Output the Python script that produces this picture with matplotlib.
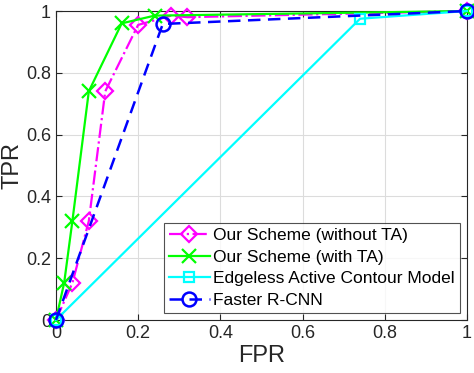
import matplotlib
matplotlib.use("Agg")
import matplotlib.pyplot as plt

plt.rcParams['font.family'] = ['Liberation Sans', 'DejaVu Sans']

fpr_without_ta = [0, 0.04, 0.08, 0.12, 0.20, 0.28, 0.32, 1.0]
tpr_without_ta = [0, 0.12, 0.32, 0.74, 0.955, 0.985, 0.98, 1.0]

fpr_with_ta = [0, 0.02, 0.04, 0.08, 0.16, 0.24, 1.0]
tpr_with_ta = [0, 0.12, 0.32, 0.74, 0.96, 0.985, 1.0]

fpr_edgeless = [0, 0.74, 1.0]
tpr_edgeless = [0, 0.975, 1.0]

fpr_rcnn = [0, 0.26, 1.0]
tpr_rcnn = [0, 0.958, 1.0]

labels = ['Our Scheme (without TA)', 'Our Scheme (with TA)',
          'Edgeless Active Contour Model', 'Faster R-CNN']
ticks = [0, 0.2, 0.4, 0.6, 0.8, 1]
tick_labels = ['0', '0.2', '0.4', '0.6', '0.8', '1']

fig = plt.figure(figsize=(4.74, 3.73), dpi=100)
ax = fig.add_axes([0.118, 0.142, 0.867, 0.8285])

ax.plot(fpr_without_ta, tpr_without_ta, color=(1, 0, 1), linestyle='-.', lw=1.6,
        marker='D', markersize=8, markerfacecolor='none', markeredgewidth=1.6,
        label=labels[0], clip_on=False, zorder=3)
ax.plot(fpr_with_ta, tpr_with_ta, color=(0, 1, 0), linestyle='-', lw=1.6,
        marker='x', markersize=10, markeredgewidth=1.6, label=labels[1],
        clip_on=False, zorder=3)
ax.plot(fpr_edgeless, tpr_edgeless, color=(0, 1, 1), linestyle='-', lw=1.6,
        marker='s', markersize=7, markerfacecolor='none', markeredgewidth=1.6,
        label=labels[2], clip_on=False, zorder=3)
ax.plot(fpr_rcnn, tpr_rcnn, color=(0, 0, 1), linestyle=(0, (5, 3)), lw=1.8,
        marker='o', markersize=10, markerfacecolor='none', markeredgewidth=1.8,
        label=labels[3], clip_on=False, zorder=3)

ax.set_xlim(0, 1)
ax.set_ylim(0, 1)
ax.set_xticks(ticks)
ax.set_xticklabels(tick_labels)
ax.set_yticks(ticks)
ax.set_yticklabels(tick_labels)
ax.tick_params(direction='in', labelsize=13, length=4, color='#262626', labelcolor='#262626',
               top=True, right=True)
ax.grid(True, color='#dcdcdc', linewidth=0.8)
ax.set_axisbelow(True)
for s in ax.spines.values():
    s.set_color('#262626')
    s.set_linewidth(0.8)
ax.set_xlabel('FPR', fontsize=17, color='#262626', labelpad=2)
ax.set_ylabel('TPR', fontsize=17, color='#262626', labelpad=2)

leg = ax.legend(loc='lower right', fontsize=12.5, frameon=True, fancybox=False,
                edgecolor='#262626', borderpad=0.3, labelspacing=0.37,
                handlelength=2.35, handletextpad=0.2, borderaxespad=0.4)
leg.get_frame().set_linewidth(0.8)
leg.set_zorder(5)

fig.savefig('out.png', dpi=100)
